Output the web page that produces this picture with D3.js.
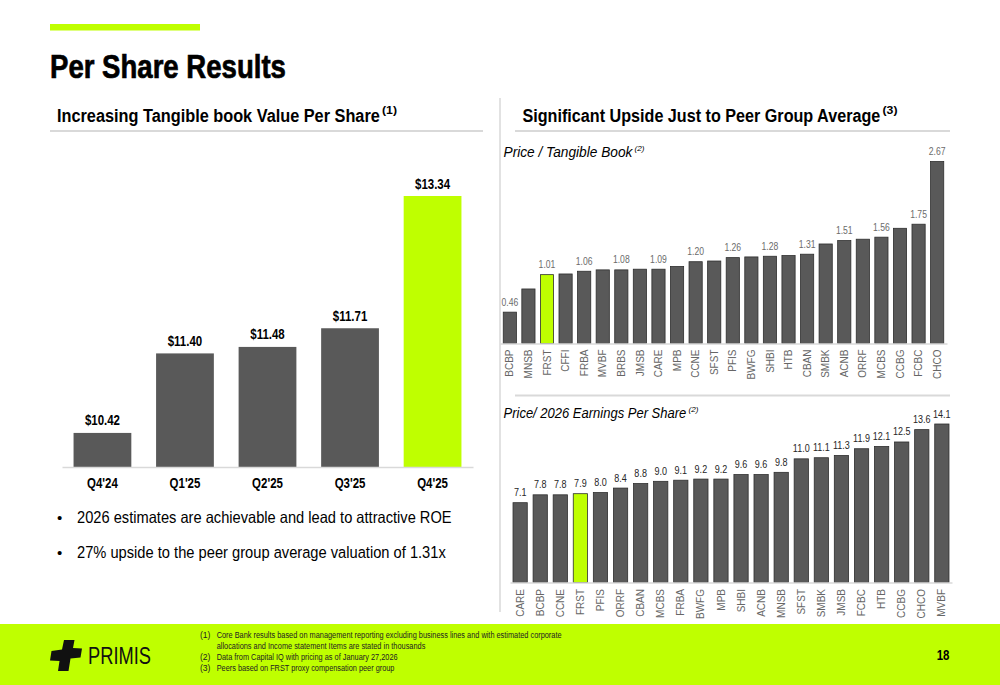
<!DOCTYPE html>
<html><head><meta charset="utf-8">
<script src="https://cdn.jsdelivr.net/npm/d3@7"></script>
<style>
body{margin:0;background:#fff;}
svg{display:block;}
text{font-family:"Liberation Sans",Arial,sans-serif;}
</style></head><body>
<svg id="c" width="1000" height="685"></svg>
<script>
// ---------- DATA ----------
const tbvQuarters = ["Q4'24", "Q1'25", "Q2'25", "Q3'25", "Q4'25"];
const tbvValues = [10.42, 11.40, 11.48, 11.71, 13.34];

const ptbBanks = ["BCBP","MNSB","FRST","CFFI","FRBA","MVBF","BRBS","JMSB","CARE","MPB","CCNE","SFST","PFIS","BWFG","SHBI","HTB","CBAN","SMBK","ACNB","ORRF","MCBS","CCBG","FCBC","CHCO"];
const ptbValues = [0.46, 0.80, 1.01, 1.02, 1.06, 1.08, 1.08, 1.09, 1.09, 1.13, 1.20, 1.21, 1.26, 1.27, 1.28, 1.29, 1.31, 1.46, 1.51, 1.53, 1.56, 1.69, 1.75, 2.67];

const peBanks = ["CARE","BCBP","CCNE","FRST","PFIS","ORRF","CBAN","MCBS","FRBA","BWFG","MPB","SHBI","ACNB","MNSB","SFST","SMBK","JMSB","FCBC","HTB","CCBG","CHCO","MVBF"];
const peValues = [7.1, 7.8, 7.8, 7.9, 8.0, 8.4, 8.8, 9.0, 9.1, 9.2, 9.2, 9.6, 9.6, 9.8, 11.0, 11.1, 11.3, 11.9, 12.1, 12.5, 13.6, 14.1];

const highlight = "FRST";
const bullets = ["2026 estimates are achievable and lead to attractive ROE",
                 "27% upside to the peer group average valuation of 1.31x"];
const footnotes = [
  ["(1)", "Core Bank results based on management reporting excluding business lines and with estimated corporate"],
  ["", "allocations and Income statement Items are stated in thousands"],
  ["(2)", "Data from Capital IQ with pricing as of January 27,2026"],
  ["(3)", "Peers based on FRST proxy compensation peer group"]
];

// ---------- STYLE ----------
const LIME = "#bfff00", BAR = "#595959", GRID = "#d9d9d9", LABEL = "#666666";
const svg = d3.select("#c");

// horizontally scale text about its anchor so that it spans width w (real geometry, not textLength)
function scaleTo(node, w) {
  const n = d3.select(node);
  const x = +n.attr("x") || 0, y = +n.attr("y") || 0;
  const nat = node.getComputedTextLength();
  n.attr("x", 0).attr("y", 0).attr("transform", `translate(${x},${y}) scale(${w / nat},1)`);
}
function fit(sel, w) { sel.each(function () { scaleTo(this, w); }); return sel; }
function condense(sel, f) { sel.each(function () { scaleTo(this, this.getComputedTextLength() * f); }); return sel; }

function heading(x, y, size, main, note, width, noteW, extra) {
  const t = svg.append("text").attr("x", x).attr("y", y).attr("font-size", size).text(main);
  if (extra) extra(t);
  fit(t, width);
  const n = svg.append("text").attr("x", x + width + 2).attr("y", y - size * 0.4).attr("font-size", size * 0.56).text(note);
  if (extra) extra(n);
  fit(n, noteW);
}

// ---------- HEADER ----------
svg.append("rect").attr("x", 50).attr("y", 24).attr("width", 150).attr("height", 6.5).attr("fill", LIME);
fit(svg.append("text").attr("x", 50).attr("y", 77.5).attr("font-size", 34).attr("font-weight", "bold")
  .attr("fill", "#000").attr("stroke", "#000").attr("stroke-width", 0.7).text("Per Share Results"), 236);

heading(57, 122, 19, "Increasing Tangible book Value Per Share", "(1)", 323, 15, t => t.attr("font-weight", "bold"));
heading(522.5, 121.7, 19, "Significant Upside Just to Peer Group Average", "(3)", 358, 15, t => t.attr("font-weight", "bold"));

svg.append("line").attr("x1", 50).attr("x2", 483).attr("y1", 131).attr("y2", 131).attr("stroke", GRID).attr("stroke-width", 2);
svg.append("line").attr("x1", 515).attr("x2", 950).attr("y1", 131).attr("y2", 131).attr("stroke", GRID).attr("stroke-width", 2);
svg.append("line").attr("x1", 515).attr("x2", 950).attr("y1", 395.5).attr("y2", 395.5).attr("stroke", GRID).attr("stroke-width", 2);
svg.append("line").attr("x1", 500).attr("x2", 500).attr("y1", 98).attr("y2", 612).attr("stroke", GRID).attr("stroke-width", 1.5);

// ---------- LEFT CHART ----------
{
  const x = d3.scaleBand().domain(tbvQuarters).range([62, 473]).paddingInner(0.3).paddingOuter(0.14);
  const y = d3.scaleLinear().domain([10, 13.34]).range([467, 196]);
  const data = tbvQuarters.map((q, i) => ({ q, v: tbvValues[i] }));
  svg.append("g").selectAll("rect").data(data).join("rect")
    .attr("x", d => x(d.q)).attr("width", x.bandwidth())
    .attr("y", d => y(d.v)).attr("height", d => y.range()[0] - y(d.v))
    .attr("fill", (d, i) => i === data.length - 1 ? LIME : BAR);
  const ax = svg.append("g").attr("transform", "translate(0,467)")
    .call(d3.axisBottom(x).tickSize(0).tickPadding(0));
  ax.select(".domain").attr("stroke", GRID).attr("stroke-width", 1.5);
  ax.selectAll("text").attr("dy", null).attr("y", 21).attr("font-size", 14).attr("font-weight", "bold")
    .attr("fill", "#000").attr("font-family", "Liberation Sans");
  condense(ax.selectAll("text"), 0.82);
  const lab = svg.append("g").selectAll("text").data(data).join("text")
    .attr("x", d => x(d.q) + x.bandwidth() / 2).attr("y", d => y(d.v) - 7.5)
    .attr("text-anchor", "middle").attr("font-size", 14).attr("font-weight", "bold").attr("fill", "#000")
    .text(d => "$" + d.v.toFixed(2));
  condense(lab, 0.82);
}

// bullets
bullets.forEach((b, i) => {
  const by = [523, 557.5][i];
  svg.append("text").attr("x", 57).attr("y", by).attr("font-size", 15).text("•");
  fit(svg.append("text").attr("x", 77).attr("y", by).attr("font-size", 16.5).text(b), [375, 369][i]);
});

// ---------- RIGHT CHARTS ----------
function peerChart(cats, vals, opt) {
  const x = d3.scaleBand().domain(cats).range(opt.xr).paddingInner(0.29).paddingOuter(opt.po);
  const y = d3.scaleLinear().domain([0, d3.max(vals)]).range([opt.base, opt.top]);
  const data = cats.map((c, i) => ({ c, v: vals[i], i }));
  svg.append("g").selectAll("rect").data(data).join("rect")
    .attr("x", d => x(d.c)).attr("width", x.bandwidth())
    .attr("y", d => y(d.v)).attr("height", d => opt.base - y(d.v))
    .attr("fill", d => d.c === highlight ? LIME : BAR)
    .attr("stroke", "#2e2e2e").attr("stroke-width", 0.8);
  const ax = svg.append("g").attr("transform", `translate(0,${opt.base})`)
    .call(d3.axisBottom(x).tickSize(0).tickPadding(0));
  ax.select(".domain").attr("stroke", GRID).attr("stroke-width", 1.5);
  ax.selectAll(".tick text").attr("transform", "rotate(-90)")
    .attr("x", -opt.catGap).attr("y", 0).attr("dy", "0.36em")
    .attr("text-anchor", "end").attr("font-size", 10).attr("fill", LABEL)
    .attr("font-family", "Liberation Sans");
  const shown = data.filter(opt.show);
  const lab = svg.append("g").selectAll("text").data(shown).join("text")
    .attr("x", d => x(d.c) + x.bandwidth() / 2).attr("y", d => y(d.v) - opt.labGap)
    .attr("text-anchor", "middle").attr("font-size", opt.labSize).attr("fill", opt.labColor)
    .text(d => opt.fmt(d.v));
  condense(lab, 0.82);
}

peerChart(ptbBanks, ptbValues, {
  xr: [500, 947], po: 0.175, base: 343.5, top: 161.5, catGap: 6,
  show: d => d.i % 2 === 0 || d.i === ptbBanks.length - 1,
  labGap: 6.5, labSize: 10.5, labColor: "#6b6b6b", fmt: v => v.toFixed(2)
});
heading(503.5, 156.5, 14, "Price / Tangible Book", "(2)", 129, 10, t => t.attr("font-style", "italic"));

peerChart(peBanks, peValues, {
  xr: [510, 952], po: 0.15, base: 582.5, top: 424, catGap: 6.5,
  show: () => true,
  labGap: 6.5, labSize: 11, labColor: "#262626", fmt: v => v.toFixed(1)
});
heading(503.5, 418, 14, "Price/ 2026 Earnings Per Share", "(2)", 183, 10, t => t.attr("font-style", "italic"));

// ---------- FOOTER ----------
svg.append("rect").attr("x", 0).attr("y", 624).attr("width", 1000).attr("height", 61).attr("fill", LIME);
svg.append("polygon").attr("fill", "#111")
  .attr("points", [[64,640],[74.5,640],[73,648],[82,648.5],[80.5,657.5],[70.5,658.5],[68.5,671],[58,671],[59.5,661],[50,660.5],[51.5,651],[62,649.5]].map(p => p.join(",")).join(" "));
fit(svg.append("text").attr("x", 88).attr("y", 664).attr("font-size", 23).attr("fill", "#111").text("PRIMIS"), 63);

const fnY = [638, 648.5, 659.5, 670.5];
const fnW = [345, 209, 181, 178];
footnotes.forEach((f, i) => {
  if (f[0]) fit(svg.append("text").attr("x", 200).attr("y", fnY[i]).attr("font-size", 9).attr("fill", "#222").text(f[0]), 10.5);
  fit(svg.append("text").attr("x", 216.7).attr("y", fnY[i]).attr("font-size", 9).attr("fill", "#222").text(f[1]), fnW[i]);
});
fit(svg.append("text").attr("x", 949.5).attr("y", 660).attr("text-anchor", "end").attr("font-size", 14)
  .attr("font-weight", "bold").attr("fill", "#000").text("18"), 12.8);
</script>
</body></html>
